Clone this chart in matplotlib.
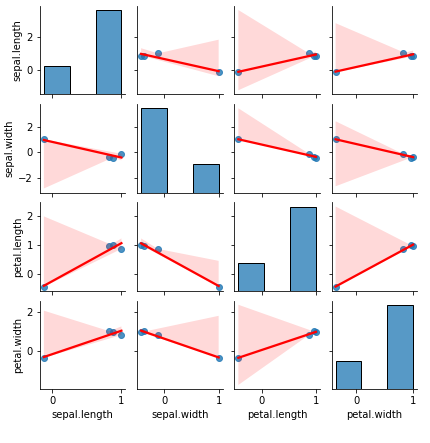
import numpy as np
import pandas as pd
import seaborn as sns
import matplotlib
matplotlib.use("Agg")
import matplotlib.pyplot as plt

# correlation matrix of iris measurements
names = ["sepal.length", "sepal.width", "petal.length", "petal.width"]
sepal_length = [1.000, -0.118, 0.872, 0.818]
sepal_width = [-0.118, 1.000, -0.428, -0.366]
petal_length = [0.872, -0.428, 1.000, 0.963]
petal_width = [0.818, -0.366, 0.963, 1.000]

corr = pd.DataFrame({
    "sepal.length": sepal_length,
    "sepal.width": sepal_width,
    "petal.length": petal_length,
    "petal.width": petal_width,
}, index=names)

g = sns.pairplot(corr, kind="reg", height=1.5,
                 plot_kws={"line_kws": {"color": "red"}, "seed": 0},
                 diag_kws={"edgecolor": "black"})
g.figure.set_size_inches(430 / 72, 443 / 72)
g.figure.subplots_adjust(left=40 / 430, right=417 / 430,
                         top=1 - 6 / 443, bottom=1 - 389 / 443,
                         wspace=0.14, hspace=0.113)
g.figure.savefig("out.png", dpi=72)
